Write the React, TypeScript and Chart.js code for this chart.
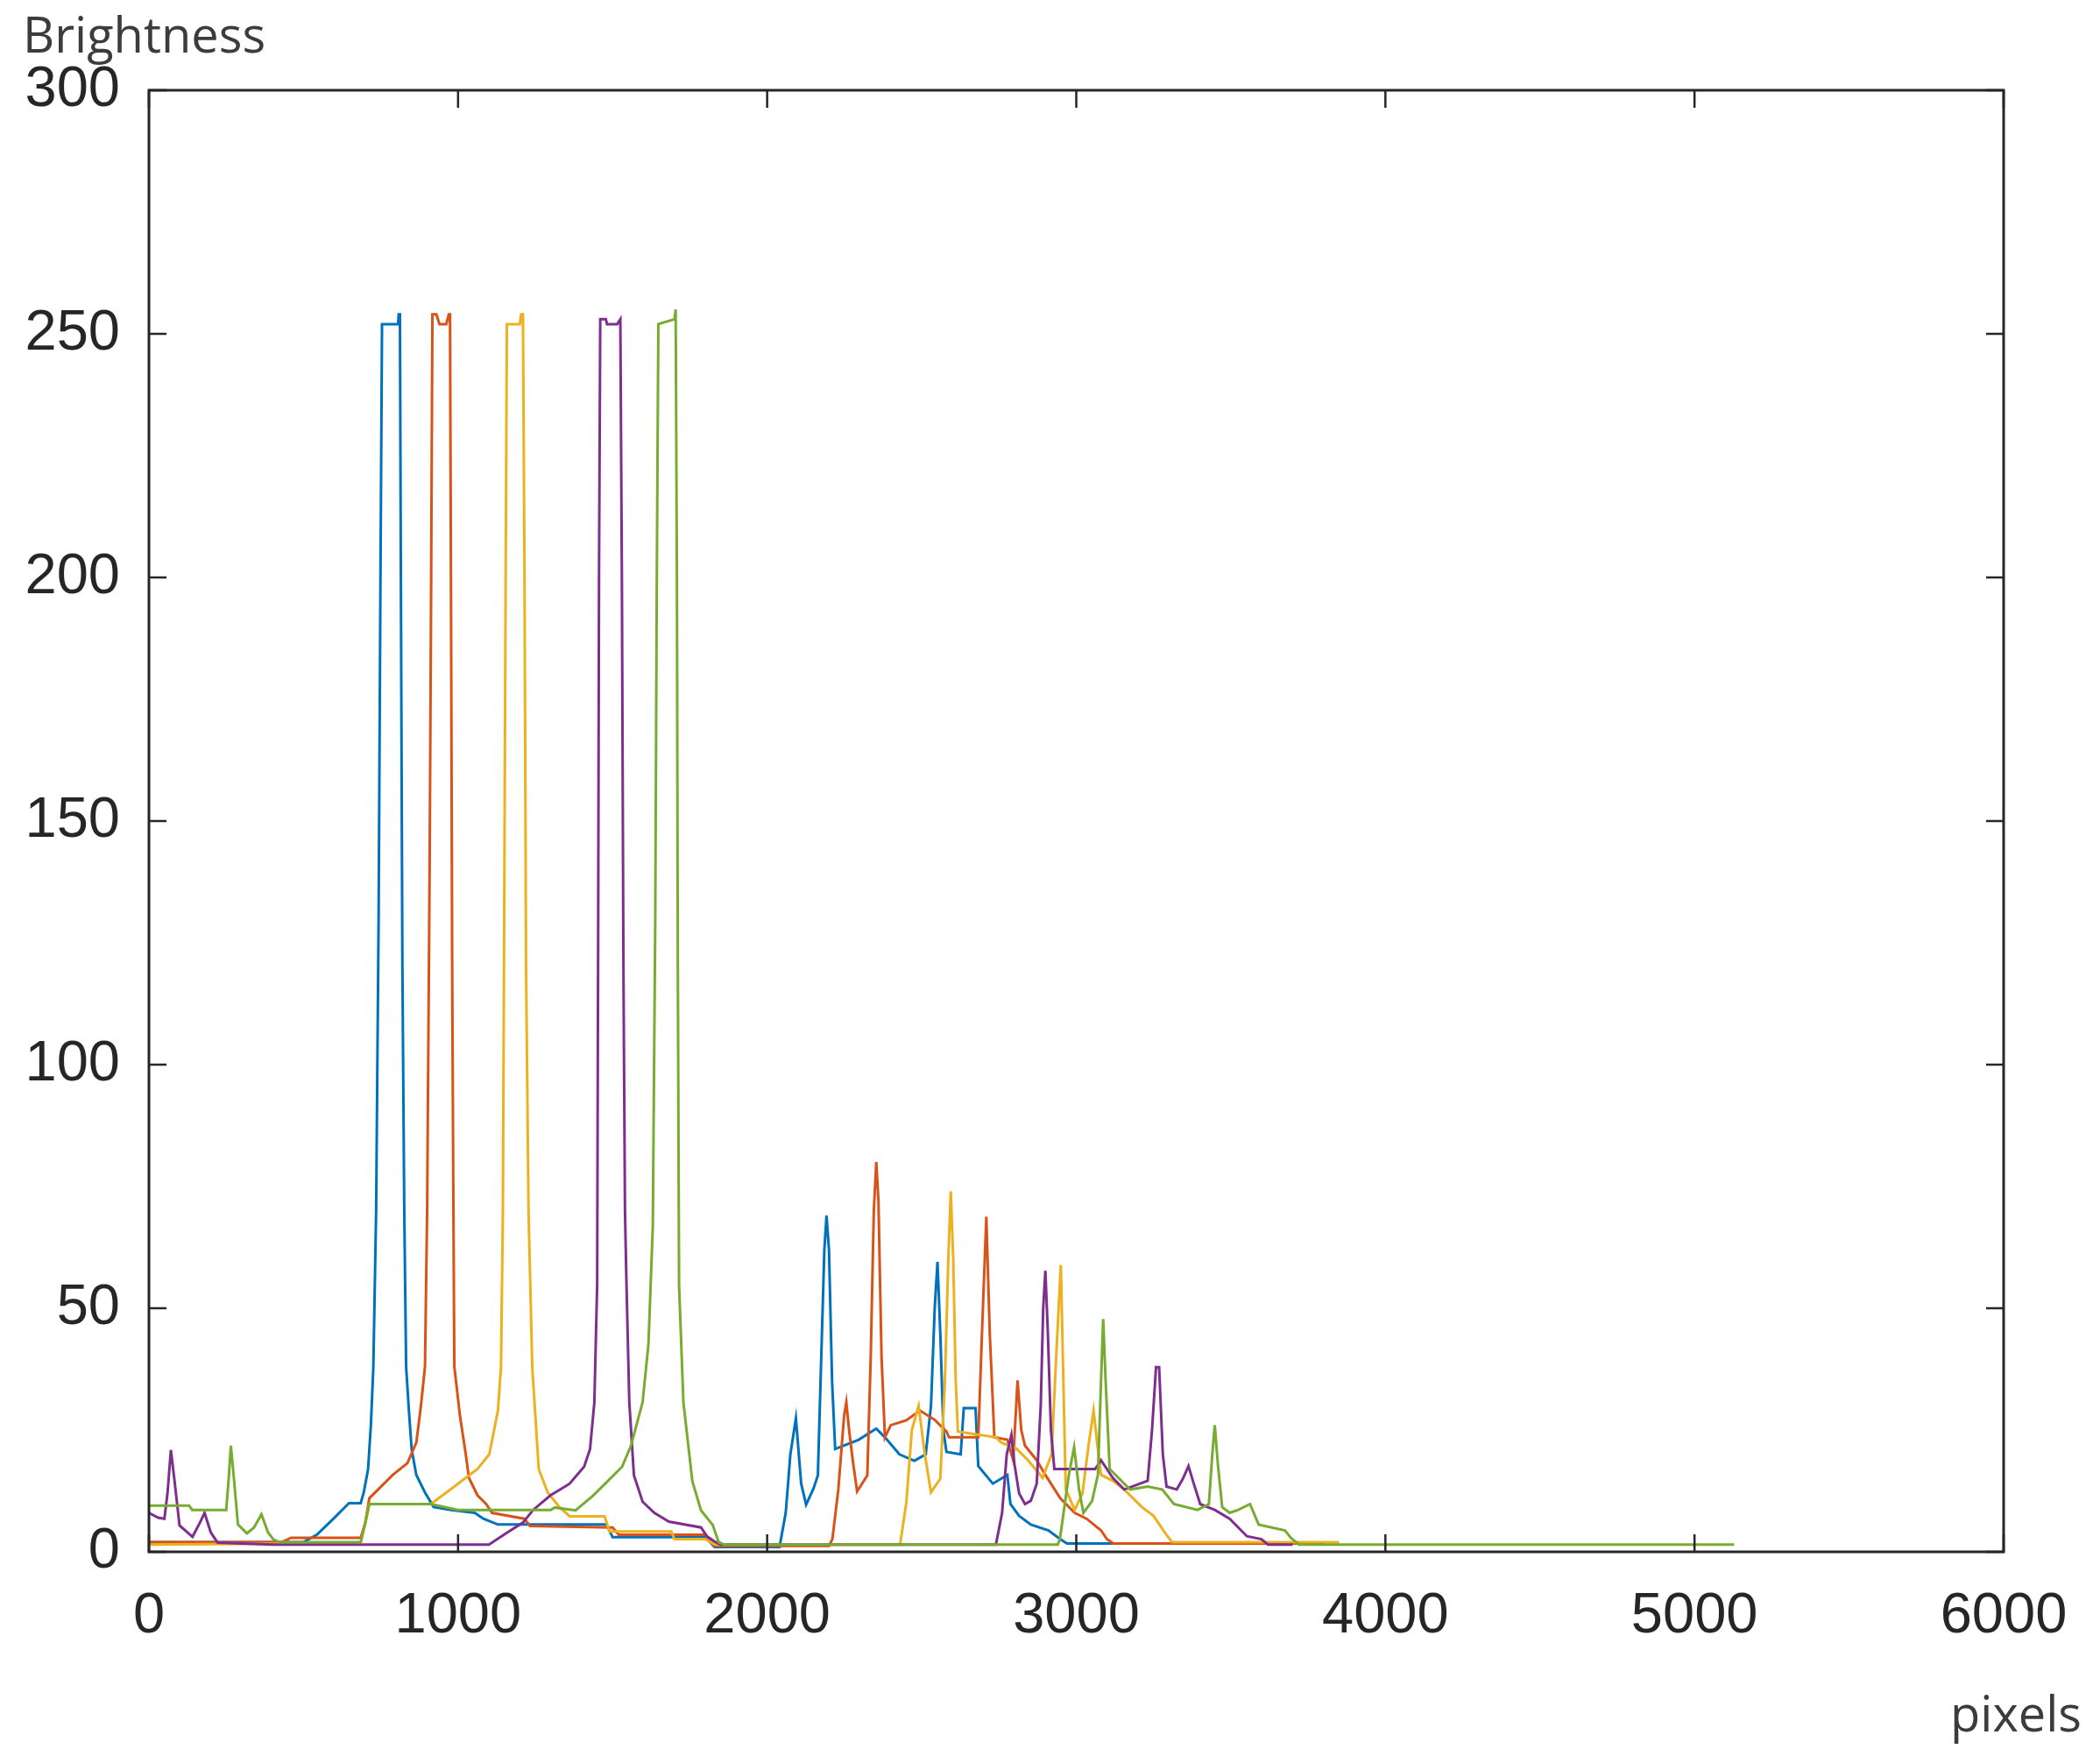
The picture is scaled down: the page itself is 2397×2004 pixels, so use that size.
import React, { useEffect, useRef } from "react";
import { Chart, registerables } from "chart.js";
Chart.register(...registerables);

// Axis ticks
const xTickValues = [0, 1000, 2000, 3000, 4000, 5000, 6000];
const yTickValues = [0, 50, 100, 150, 200, 250, 300];
const xTitle = "pixels";
const yTitle = "Brightness";

// Series 1 (blue)
const blueX = [0,500,543,600,647,685,695,709,718,726,735,743,749,754,806,808,812,815,820,826,832,841,850,865,893,921,978,1054,1082,1129,1480,1500,1800,1830,2040,2060,2075,2093,2110,2126,2150,2164,2175,2185,2192,2200,2210,2220,2296,2353,2381,2428,2476,2513,2530,2542,2551,2560,2570,2580,2626,2636,2674,2683,2730,2777,2787,2815,2853,2910,2948,2970,3700];
const blueY = [2,2,3.5,7,10,10,12.2,17,26,38,70,130,200,252,252,254,254,200,120,70,38,29,21,15.8,12.2,9.2,8.6,8,6.8,5.6,5.6,3,3,1,1,8,20,27.4,14,9.7,13,15.7,40,62,69,62,35,21.1,23,25.3,23.5,20,18.7,20,30,50,59.5,45,25,20.5,20,29.5,29.5,17.6,14,15.8,9.8,7.4,5.6,4.4,2.6,1.7,1.7];

// Series 2 (orange)
const orangeX = [0,430,460,685,700,713,789,836,865,880,893,900,908,913,917,930,940,962,970,974,977,981,985,988,1006,1025,1035,1063,1091,1110,1214,1233,1500,1520,1800,1830,2200,2211,2230,2249,2256,2265,2277,2291,2324,2335,2345,2353,2360,2370,2381,2400,2450,2494,2542,2580,2588,2683,2695,2709,2720,2735,2777,2796,2810,2822,2834,2872,2900,2948,2995,3033,3080,3099,3120,3800];
const orangeY = [2,2,2.9,2.9,6,11,15.8,18.2,22.4,30,38,70,140,200,254,254,252,252,254,254,200,120,70,38,28,20,15.2,11.6,9.8,8,6.8,5.3,5,3.5,3.5,1.2,1.2,2.6,12.7,28,30.7,25,18.7,12.4,15.7,40,70,80,72,40,23.5,26,27,29,27.1,24.7,23.5,23.5,45,68.8,45,23.5,23,18.8,35.2,25,21.8,18.8,15.8,11,8,6.8,4.4,2.6,1.7,1.7];

// Series 3 (yellow)
const yellowX = [0,685,700,713,912,950,988,1025,1063,1101,1129,1139,1145,1150,1154,1158,1200,1204,1210,1215,1220,1228,1240,1261,1290,1328,1361,1474,1490,1690,1700,1800,1830,2430,2450,2468,2490,2510,2530,2560,2575,2586,2594,2602,2610,2617,2740,2758,2806,2844,2891,2920,2935,2950,2960,2966,2995,3020,3040,3056,3068,3080,3118,3155,3212,3250,3288,3310,3850];
const yellowY = [1.5,1.8,6,9.8,9.8,11.6,13.4,15.2,17,20,29,38,70,140,200,252,252,254,254,200,120,70,38,17,12.2,9.2,7.3,7.3,4.2,4.2,2.6,2.6,1.5,1.5,10,25,30,20,12.2,15,35,60,74,60,35,24.7,23.5,22.4,21.2,18.8,15.2,20,40,58.9,30,12.8,8.6,12,22,29,22,15.8,14.6,12.8,9.2,7.4,3.8,2,2];

// Series 4 (purple)
const purpleX = [0,30,50,60,71,82,99,141,165,180,200,222,400,1100,1160,1210,1243,1299,1346,1361,1408,1427,1441,1450,1453,1456,1460,1478,1482,1515,1525,1530,1535,1540,1545,1554,1569,1597,1635,1682,1786,1805,1833,1850,2740,2760,2775,2790,2800,2815,2834,2853,2872,2885,2893,2900,2908,2918,2929,3061,3080,3118,3155,3231,3245,3258,3268,3280,3292,3325,3345,3363,3380,3401,3448,3496,3552,3599,3620,3700];
const purpleY = [8,7,6.8,12,20.9,15,5.4,3.1,6,8,4,1.9,1.5,1.5,4,6,8.6,11.6,13.4,14,17.5,21.1,30.7,54.7,120,200,253,253,252,252,253,200,120,70,54.7,30.7,15.7,10.3,8,6.2,5,3.2,2,1.5,1.5,8,20,24,18,12,9.8,10.5,14,30,50,57.7,45,25,17,17,18.8,15.2,12.8,14.6,25,37.9,37.9,20,13.4,12.8,15,17.6,14,9.8,8.6,6.8,3.2,2.6,1.5,1.5];

// Series 5 (green)
const greenX = [0,130,140,250,258,265,275,288,317,340,364,385,402,420,685,700,713,912,1000,1300,1313,1380,1436,1484,1531,1559,1597,1616,1630,1638,1643,1648,1700,1704,1708,1711,1715,1729,1758,1786,1824,1843,1860,2940,2947,2976,2993,3009,3023,3051,3070,3080,3087,3095,3108,3136,3174,3231,3278,3316,3392,3429,3440,3448,3458,3472,3496,3524,3562,3590,3675,3694,3720,5128];
const greenY = [9.5,9.5,8.6,8.6,15,21.8,15,5.6,3.8,5,7.7,4,2.6,2,2,6,9.8,9.8,8.6,8.6,9.1,8.5,11.5,14.5,17.5,21.7,30.7,42.7,66.7,130,200,252,253,255,200,120,54.7,30.7,14.5,8.5,5.5,2,1.5,1.5,2.6,15.8,21.5,12.8,8,10.4,15.8,35,47.8,35,17,15.2,12.8,13.4,12.8,9.8,8.6,9.8,20,26,18,9.2,8,8.6,9.8,5.6,4.4,2.9,1.5,1.5];

const seriesColors = ["#0072BD", "#D95319", "#EDB120", "#7E2F8E", "#77AC30"];
const seriesX = [blueX, orangeX, yellowX, purpleX, greenX];
const seriesY = [blueY, orangeY, yellowY, purpleY, greenY];

const AXIS_COLOR = "#262626";
const TICK_FONT = "'Liberation Sans', Arial, Helvetica, sans-serif";
const TITLE_FONT = "'Open Sans', 'Noto Sans', sans-serif";

const framePlugin = {
  id: "frameAndTitles",
  afterDraw(chart: any) {
    const { ctx, chartArea, scales } = chart;
    const { left, right, top, bottom } = chartArea;
    ctx.save();
    ctx.strokeStyle = AXIS_COLOR;
    ctx.lineWidth = 3;
    ctx.beginPath();
    ctx.rect(left, top, right - left, bottom - top);
    ctx.stroke();
    const tl = 20;
    ctx.lineWidth = 2.5;
    ctx.beginPath();
    xTickValues.forEach((v) => {
      const px = scales.x.getPixelForValue(v);
      ctx.moveTo(px, bottom);
      ctx.lineTo(px, bottom - tl);
      ctx.moveTo(px, top);
      ctx.lineTo(px, top + tl);
    });
    yTickValues.forEach((v) => {
      const py = scales.y.getPixelForValue(v);
      ctx.moveTo(left, py);
      ctx.lineTo(left + tl, py);
      ctx.moveTo(right, py);
      ctx.lineTo(right - tl, py);
    });
    ctx.stroke();
    ctx.fillStyle = "#3c3c3c";
    ctx.font = `56px ${TITLE_FONT}`;
    ctx.textBaseline = "alphabetic";
    ctx.textAlign = "left";
    ctx.fillText(yTitle, 26, 60);
    ctx.fillText(xTitle, 2226, 1976);
    ctx.restore();
  },
};

export default function App() {
  const ref = useRef<HTMLCanvasElement>(null);
  useEffect(() => {
    const datasets = seriesX.map((xs, i) => ({
      label: "s" + (i + 1),
      data: xs.map((x, j) => ({ x, y: seriesY[i][j] })),
      borderColor: seriesColors[i],
      backgroundColor: seriesColors[i],
      borderWidth: 3,
      pointRadius: 0,
      tension: 0,
      fill: false,
      order: seriesX.length - i,
    }));
    const chart = new Chart(ref.current as HTMLCanvasElement, {
      type: "line",
      data: { datasets },
      options: {
        animation: false,
        responsive: true,
        maintainAspectRatio: false,
        devicePixelRatio: 1,
        parsing: false as any,
        layout: { padding: { top: 103, right: 110, left: 0, bottom: 0 } },
        plugins: { legend: { display: false }, tooltip: { enabled: false } },
        scales: {
          x: {
            type: "linear",
            min: 0,
            max: 6000,
            grid: { display: false, drawTicks: false },
            border: { display: false },
            afterBuildTicks: (scale: any) => {
              scale.ticks = xTickValues.map((v) => ({ value: v }));
            },
            afterFit: (scale: any) => {
              scale.height = 233;
            },
            ticks: {
              callback: (v: any) => String(v),
              color: AXIS_COLOR,
              font: { family: TICK_FONT, size: 65 },
              padding: 35,
              maxRotation: 0,
              autoSkip: false,
            },
          },
          y: {
            type: "linear",
            min: 0,
            max: 300,
            grid: { display: false, drawTicks: false },
            border: { display: false },
            afterBuildTicks: (scale: any) => {
              scale.ticks = yTickValues.map((v) => ({ value: v }));
            },
            afterFit: (scale: any) => {
              scale.width = 170;
            },
            ticks: {
              callback: (v: any) => String(v),
              color: AXIS_COLOR,
              font: { family: TICK_FONT, size: 65 },
              padding: 33,
              autoSkip: false,
            },
          },
        },
      },
      plugins: [framePlugin],
    });
    return () => chart.destroy();
  }, []);
  return (
    <div style={{ position: "absolute", left: 0, top: 0, width: 2397, height: 2004, background: "#ffffff" }}>
      <canvas ref={ref} />
    </div>
  );
}
